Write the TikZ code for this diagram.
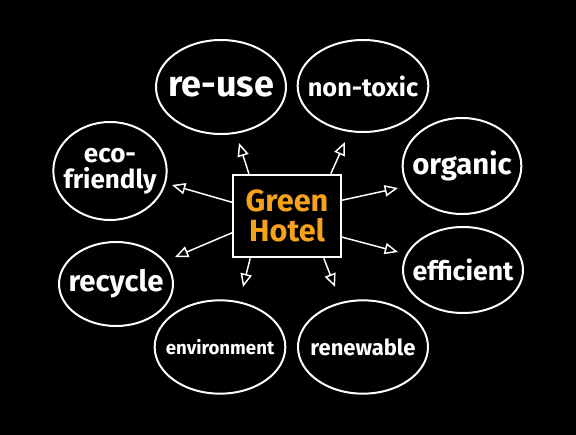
\documentclass[tikz,border=0pt]{standalone}
\usepackage{fontspec}
\setmainfont{Fira Sans}
\usetikzlibrary{shapes.geometric,arrows.meta}
\definecolor{hotelorange}{HTML}{F7A21B}

\begin{document}
\begin{tikzpicture}[x=0.75pt,y=-0.75pt,white,line width=1.1pt]
	\tikzstyle{bubble}=[ellipse,draw=white,line width=1.5pt,inner sep=0pt];
	\tikzstyle{every label}=[text=white,align=center,inner sep=0pt];
	\tikzstyle{spoke}=[-{Triangle[open,length=10pt,width=8.5pt]},line width=1.1pt];
	\fill[black] (0,0) rectangle (576,435);
	% centre
	\node[draw,line width=1.5pt,minimum width=81pt,minimum height=62pt,inner sep=0pt,align=center,text=hotelorange,font=\bfseries\fontsize{23}{22.5}\selectfont] (hotel) at (287,216) {Green\\Hotel};
	% bubbles
	\node[bubble,minimum width=97.5pt,minimum height=70.5pt,label={[font=\bfseries\fontsize{27}{27}\selectfont]center:re-use}] (reuse) at (221,87) {};
	\node[bubble,minimum width=98pt,minimum height=69pt,label={[font=\bfseries\fontsize{19}{19}\selectfont]center:non-toxic}] (nontoxic) at (363,86) {};
	\node[bubble,minimum width=85pt,minimum height=73.5pt,label={[font=\bfseries\fontsize{19.5}{19.5}\selectfont]center:eco-\\friendly}] (eco) at (110,171) {};
	\node[bubble,minimum width=89pt,minimum height=72pt,label={[font=\bfseries\fontsize{22}{22}\selectfont]center:organic}] (organic) at (462,166) {};
	\node[bubble,minimum width=85.5pt,minimum height=63pt,label={[font=\bfseries\fontsize{22}{22}\selectfont]center:recycle}] (recycle) at (116,284) {};
	\node[bubble,minimum width=90pt,minimum height=64.5pt,label={[font=\bfseries\fontsize{20}{20}\selectfont]center:efficient}] (efficient) at (463,270) {};
	\node[bubble,minimum width=98pt,minimum height=70pt,label={[font=\bfseries\fontsize{14}{14}\selectfont]center:environment}] (environment) at (220,347) {};
	\node[bubble,minimum width=97.5pt,minimum height=70pt,label={[font=\bfseries\fontsize{16.5}{16.5}\selectfont]center:renewable}] (renewable) at (363,347) {};
	% arrow tips
	\coordinate (tReuse) at (239,143);
	\coordinate (tNontoxic) at (345,142);
	\coordinate (tEco) at (172,185);
	\coordinate (tOrganic) at (398,188);
	\coordinate (tRecycle) at (175,257);
	\coordinate (tEfficient) at (398,252);
	\coordinate (tEnvironment) at (243,287);
	\coordinate (tRenewable) at (335,287);
	\draw[spoke] (hotel.132) -- (tReuse);
	\draw[spoke] (hotel.44) -- (tNontoxic);
	\draw[spoke] (hotel.166) -- (tEco);
	\draw[spoke] (hotel.16) -- (tOrganic);
	\draw[spoke] (hotel.197) -- (tRecycle);
	\draw[spoke] (hotel.339) -- (tEfficient);
	\draw[spoke] (hotel.229) -- (tEnvironment);
	\draw[spoke] (hotel.311) -- (tRenewable);
\end{tikzpicture}
\end{document}
